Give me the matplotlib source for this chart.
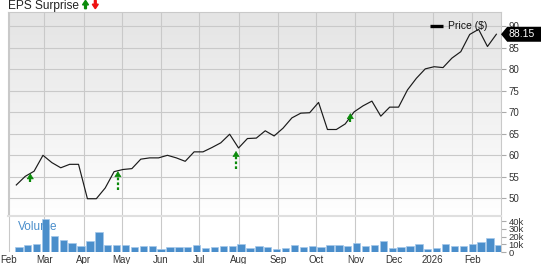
import matplotlib
matplotlib.use('Agg')
import matplotlib.pyplot as plt
import matplotlib.dates as mdates
import numpy as np
import pandas as pd
from matplotlib.patches import Polygon, FancyArrow
from matplotlib.transforms import IdentityTransform
from matplotlib.colors import LinearSegmentedColormap
from matplotlib.lines import Line2D

plt.rcParams['font.family'] = ['Liberation Sans', 'DejaVu Sans']

# ---------------- data ----------------
dates = pd.date_range('2025-02-07', periods=55, freq='7D')
price = [53.1, 55.1, 56.3, 60.0, 58.3, 57.1, 57.9, 57.9, 49.9, 49.9,
         52.4, 56.2, 56.7, 56.9, 59.1, 59.4, 59.4, 60.0, 59.4, 58.6,
         60.8, 60.8, 61.8, 62.9, 64.9, 61.7, 63.9, 64.0, 65.7, 64.5,
         66.3, 68.7, 69.8, 69.9, 72.3, 66.0, 66.0, 67.3, 70.1, 71.5,
         72.6, 69.1, 71.2, 71.2, 75.2, 77.9, 80.1, 80.6, 80.4, 82.6,
         84.1, 88.1, 89.3, 85.3, 88.15]
volume_k = [6.1, 8.7, 10.0, 43.0, 20.4, 15.6, 11.3, 8.2, 14.3, 25.6,
            9.1, 9.1, 9.5, 6.5, 8.2, 7.8, 4.3, 6.1, 6.5, 6.5,
            9.1, 5.2, 6.9, 7.8, 7.8, 10.4, 5.6, 7.4, 6.1, 4.3,
            5.6, 8.7, 6.5, 7.8, 6.5, 9.5, 9.5, 7.4, 11.3, 7.8,
            9.5, 13.9, 4.8, 6.1, 8.2, 10.0, 3.9, 5.2, 10.0, 7.8,
            7.4, 10.4, 13.0, 18.2, 8.7]
earn_dates = pd.to_datetime(['2025-02-18', '2025-04-28', '2025-07-30', '2025-10-28'])
earn_tip = [55.8, 56.3, 61.0, 69.8]
earn_base = [53.9, 51.9, 56.7, 67.8]
earn_dashed = [False, True, True, False]
last_price = 88.15

price_ticks = [50, 55, 60, 65, 70, 75, 80, 85, 90]
vol_ticks = [0, 10, 20, 30, 40]
vol_labels = ['0', '10k', '20k', '30k', '40k']
month_ticks = pd.date_range('2025-02-01', '2026-02-01', freq='MS')
month_labels = ['Feb', 'Mar', 'Apr', 'May', 'Jun', 'Jul', 'Aug', 'Sep',
                'Oct', 'Nov', 'Dec', '2026', 'Feb']

# ---------------- layout ----------------
W, H = 541, 264
fig = plt.figure(figsize=(W / 100, H / 100), dpi=100)
L, R = 8.3 / W, 500.7 / W
ax = fig.add_axes([L, (H - 216) / H, R - L, (216 - 12.3) / H])
axv = fig.add_axes([L, (H - 252) / H, R - L, (252 - 216) / H])

GRID = '#c9c9c9'
TXT = '#333333'
GREEN = '#0a8a0a'

# gradient background for price panel
cmap = LinearSegmentedColormap.from_list('bg', ['#ffffff', '#e4e4e4'])
grad = np.linspace(0, 1, 256).reshape(-1, 1)
ax.imshow(grad, extent=[0, 1, 0, 1], transform=ax.transAxes, aspect='auto',
          cmap=cmap, origin='lower', zorder=0, interpolation='bilinear')

x0 = mdates.date2num(pd.Timestamp('2025-02-01')) - 0.3
x1 = x0 + 492.4 / 1.27

# price line
ax.plot(dates, price, color='#1a1a1a', lw=0.85, zorder=3)

# earnings arrows: shaft + head
head = 1.1  # head length in price units (~4.7 px)
for d, tip, base, dashed in zip(earn_dates, earn_tip, earn_base, earn_dashed):
    if dashed:
        ax.plot([d, d], [base, tip - head], color=GREEN, lw=1.6,
                dashes=(1.2, 1.0), dash_capstyle='butt', zorder=4)
    else:
        ax.plot([d, d], [base, tip - head], color=GREEN, lw=1.6,
                solid_capstyle='butt', zorder=4)
    ax.annotate('', xy=(d, tip), xytext=(d, tip - head),
                arrowprops=dict(arrowstyle='-|>,head_length=0.35,head_width=0.22',
                                color=GREEN, lw=0.5, shrinkA=0, shrinkB=0,
                                mutation_scale=10),
                zorder=4)

ax.set_xlim(x0, x1)
ax.set_ylim(70 - (216 - 112.3) / 4.3, 70 + (112.3 - 12.3) / 4.3)
ax.set_yticks(price_ticks)
ax.set_xticks(month_ticks)
ax.set_xticklabels([])
ax.yaxis.tick_right()
ax.tick_params(axis='x', length=0)
ax.tick_params(axis='y', length=3.5, color='#aaaaaa', labelsize=7,
               labelcolor=TXT, pad=2)
ax.grid(True, color=GRID, lw=0.8, zorder=1)
ax.set_axisbelow(True)
for s in ['top', 'left', 'right']:
    ax.spines[s].set_color(GRID)
    ax.spines[s].set_linewidth(0.8)
ax.spines['bottom'].set_visible(False)

# legend
h = [Line2D([], [], color='black', lw=2.4, solid_capstyle='butt')]
ax.legend(h, ['Price ($)'], loc='upper right', frameon=False, fontsize=7.5,
          handlelength=1.2, handletextpad=0.5, borderaxespad=0.0,
          bbox_to_anchor=(1 - 9 / 492.4, 1 - 5 / 203.7), labelcolor='#111111')

# volume
axv.bar(dates + pd.Timedelta(days=2), volume_k, width=5.8, color='#4a8ecb',
        edgecolor='#a4c8ea', lw=0.5, zorder=2)
axv.set_xlim(x0, x1)
axv.set_ylim(0, (252 - 216) / 0.768)
axv.set_yticks(vol_ticks)
axv.set_yticklabels(vol_labels)
axv.yaxis.tick_right()
axv.set_xticks(month_ticks)
axv.set_xticklabels(month_labels)
axv.tick_params(axis='x', length=0, labelsize=7, labelcolor=TXT, pad=2.5)
axv.tick_params(axis='y', length=3.5, color='#aaaaaa', labelsize=6.8,
                labelcolor=TXT, pad=2)
axv.grid(True, axis='x', color=GRID, lw=0.8, zorder=1)
axv.set_axisbelow(True)
axv.spines['top'].set_color('#dfdfdf')
axv.spines['top'].set_linewidth(1.5)
axv.spines['right'].set_color(GRID)
axv.spines['right'].set_linewidth(0.8)
axv.spines['left'].set_visible(False)
axv.spines['bottom'].set_visible(False)
axv.text(0.0205, 0.70, 'Volume', transform=axv.transAxes, color='#4a8ecb',
         fontsize=8.5, va='center', ha='left')

# header
fig.text(8 / W, 1 - 0.2 / H, 'EPS Surprise', va='top', ha='left',
         fontsize=8.6, color='#222222')
fig.add_artist(FancyArrow(85.5, 255.3, 0, 8.3, width=1.8, head_width=6,
                          head_length=4.5, length_includes_head=True,
                          color=GREEN, transform=IdentityTransform()))
fig.add_artist(FancyArrow(95.3, 263.6, 0, -8.3, width=1.8, head_width=6,
                          head_length=4.5, length_includes_head=True,
                          color='#ee1111', transform=IdentityTransform()))

# last price tag
fig.canvas.draw()
yp = ax.transData.transform((x1, last_price))[1]
xp = ax.get_position().x1 * W
tag = Polygon([(xp + 0.3, yp), (xp + 6.5, yp + 7.5), (xp + 41, yp + 7.5),
               (xp + 41, yp - 7.5), (xp + 6.5, yp - 7.5)], closed=True,
              facecolor='black', edgecolor='none', transform=IdentityTransform())
fig.add_artist(tag)
fig.text((xp + 7.5) / W, yp / H, '88.15', color='white', fontsize=7.5,
         va='center', ha='left')

fig.savefig('out.png', dpi=100)
